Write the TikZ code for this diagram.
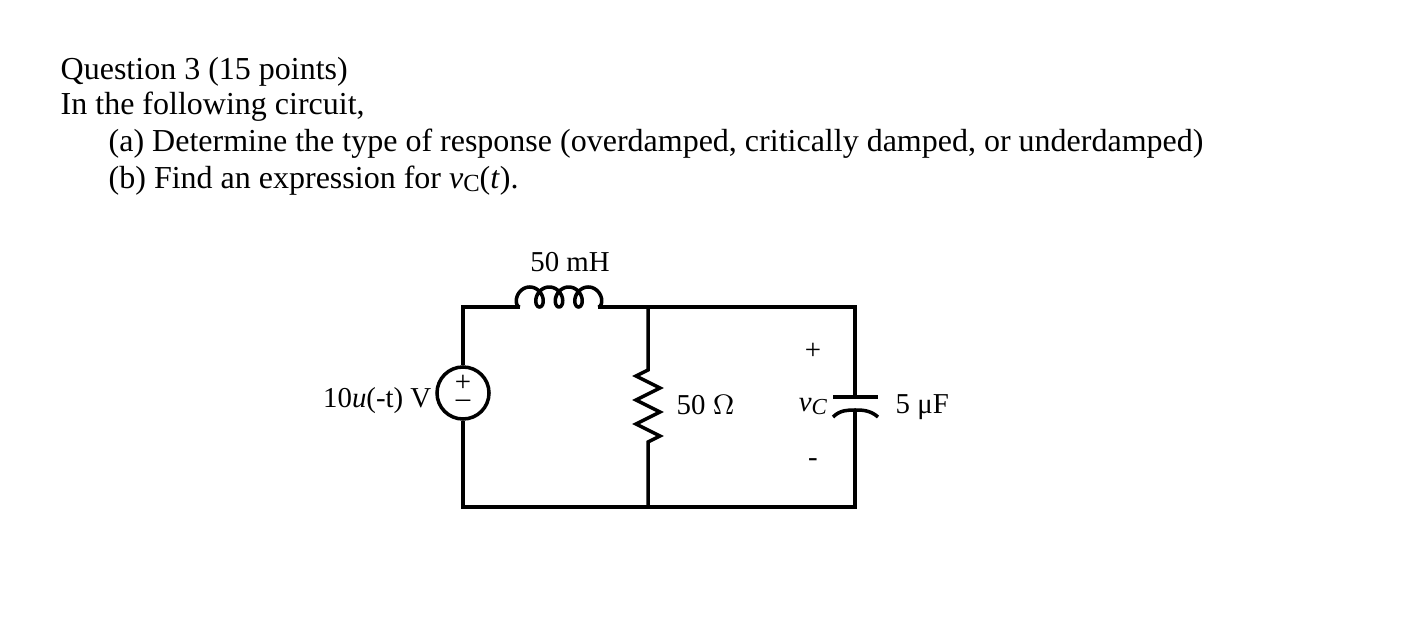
\documentclass[tikz,border=0pt]{standalone}
\usepackage{fontspec}
\setmainfont{Liberation Serif}
\begin{document}
\begin{tikzpicture}[x=0.01cm,y=-0.01cm,
  wire/.style={line width=1pt},
  big/.style={font=\fontsize{9.1pt}{11pt}\selectfont,anchor=base west,inner sep=0},
  lab/.style={font=\fontsize{8.2pt}{10pt}\selectfont,inner sep=0}]
\useasboundingbox (0,0) rectangle (1404,628);
\node[big] (q) at (60,80) {Question 3 (15 points)};
\node[big] (i) at (60,115) {In the following circuit,};
\node[big] (a) at (108,152) {(a) Determine the type of response (overdamped, critically damped, or underdamped)};
\node[big] (b) at (108,189) {(b) Find an expression for \textit{v}\raisebox{-0.15ex}{\fontsize{7pt}{8pt}\selectfont C}(\textit{t}).};
% nodes
\coordinate (tl) at (463,307);
\coordinate (bl) at (463,507);
\coordinate (tm) at (648,307);
\coordinate (bm) at (648,507);
\coordinate (tr) at (855,307);
\coordinate (br) at (855,507);
\node[circle,draw,line width=1pt,minimum size=0.52cm,inner sep=0] (src) at (463,393) {};
\node[lab] at (463,383) {+};
\node[lab] at (463,404) {--};
\coordinate (l1) at (520,307);
\coordinate (l2) at (598,307);
\coordinate (r1) at (648,370);
\coordinate (r2) at (648,442);
\coordinate (c1) at (855,397);
\coordinate (c2) at (855,410);
\draw[wire] (src.north) -- (tl) -- (l1);
\draw[wire] plot[domain=0:1440,samples=160,smooth] ({520+78*(\x/1440) - 8*sin(\x)},{307-10*(1-cos(\x))});
\draw[wire] (l2) -- (tr) -- (c1);
\draw[wire] (src.south) -- (bl) -- (br) -- (c2);
\draw[wire] (tm) -- (r1) -- (636,376) -- (660,388) -- (636,400) -- (660,412) -- (636,424) -- (660,436) -- (r2) -- (bm);
\draw[wire] (833,397) -- (878,397);
\draw[wire] (833,417) .. controls (840,410) and (848,410) .. (855,410) .. controls (862,410) and (870,410) .. (878,417);
\node[lab,anchor=base] (lh) at (570,272) {50 mH};
\node[lab,anchor=base east] (lv) at (432,408) {10\textit{u}(-t) V};
\node[lab,anchor=base west] (lr) at (676,415) {50 $\Omega$};
\node[lab,anchor=base] (lp) at (813,360) {+};
\node[lab,anchor=base] (lvc) at (813,412) {\textit{v}\raisebox{-0.2ex}{\fontsize{6.5pt}{8pt}\selectfont\textit{C}}};
\node[lab,anchor=base] (lm) at (813,466) {-};
\node[lab,anchor=base west] (lc) at (895,413) {5 μF};
\end{tikzpicture}
\end{document}
